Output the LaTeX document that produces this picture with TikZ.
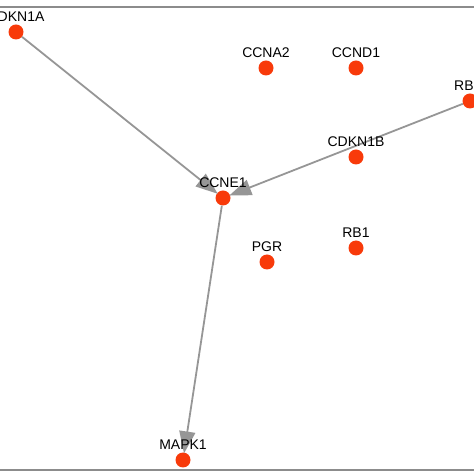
\documentclass[tikz,border=0pt]{standalone}
\usepackage{fontspec}
\setmainfont{Liberation Sans}
\usetikzlibrary{arrows.meta}
\definecolor{nodered}{RGB}{248,58,10}
\definecolor{edgegray}{RGB}{150,150,150}
\definecolor{framegray}{RGB}{140,140,140}
\tikzset{
  gene/.style={circle, fill=nodered, draw=none, minimum size=15pt, inner sep=0pt},
  genelabel/.style={font=\fontsize{14}{14}\selectfont, inner sep=0pt, anchor=south},
  interaction/.style={draw=edgegray, line width=1.8pt, -{Triangle[length=22pt, width=16pt]}, shorten >=-1pt},
}
\begin{document}
\begin{tikzpicture}[x=1pt, y=1pt]
\useasboundingbox (0,0) rectangle (474,474);
\clip (0,0) rectangle (474,474);
\draw[framegray, line width=1.5pt] (0,467) -- (474,467);
\draw[framegray, line width=1.5pt] (0,4) -- (474,4);

\node[gene] (cdkn1a) at (16,442) {};
\node[gene] (ccna2) at (266,406) {};
\node[gene] (ccnd1) at (356,406) {};
\node[gene] (rb) at (470,373) {};
\node[gene] (cdkn1b) at (356,317) {};
\node[gene] (ccne1) at (223,276) {};
\node[gene] (pgr) at (267,212) {};
\node[gene] (rb1) at (356,226) {};
\node[gene] (mapk1) at (183,14) {};

\draw[interaction] (cdkn1a) -- (ccne1);
\draw[interaction] (rb) -- (ccne1);
\draw[interaction] (ccne1) -- (mapk1);

\node[genelabel] (lcdkn1a) at (16,452.5) {CDKN1A};
\node[genelabel] (lccna2) at (266,416.5) {CCNA2};
\node[genelabel] (lccnd1) at (356,416.5) {CCND1};
\node[genelabel, anchor=south west] (lrb) at (454,383.5) {RB};
\node[genelabel] (lcdkn1b) at (356,327.5) {CDKN1B};
\node[genelabel] (lccne1) at (223,286.5) {CCNE1};
\node[genelabel] (lpgr) at (267,222.5) {PGR};
\node[genelabel] (lrb1) at (356,236.5) {RB1};
\node[genelabel] (lmapk1) at (183,24.5) {MAPK1};
\end{tikzpicture}
\end{document}
